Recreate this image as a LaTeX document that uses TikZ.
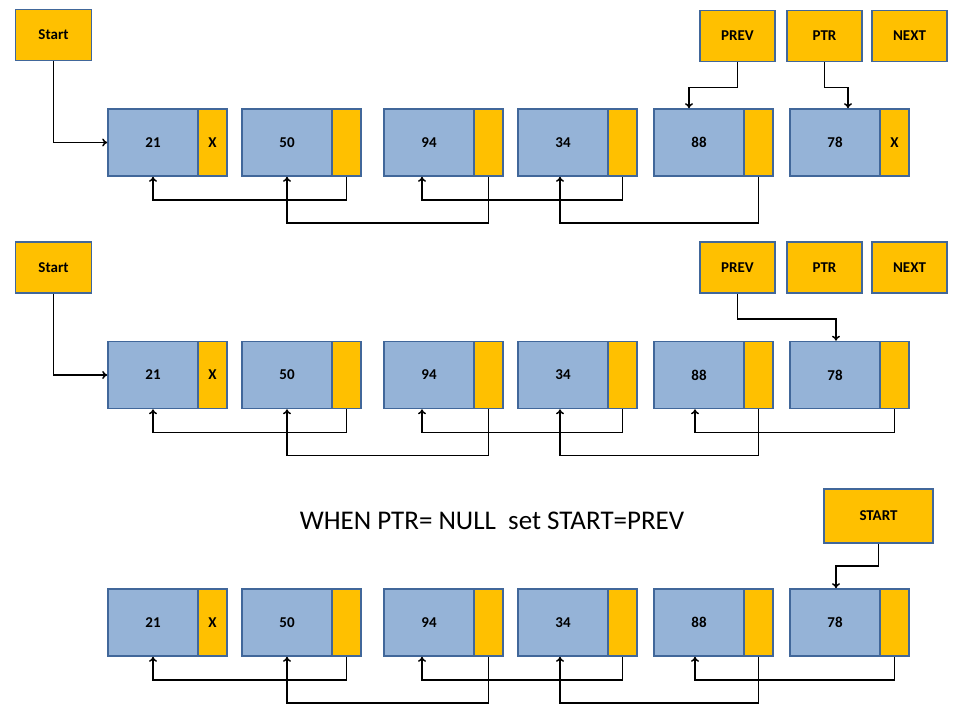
\documentclass[tikz,border=0pt]{standalone}
\usepackage{fontspec}
\setmainfont{Carlito}
\usetikzlibrary{arrows.meta}
\definecolor{cblue}{HTML}{95B3D7}
\definecolor{cedge}{HTML}{41679A}
\definecolor{cyel}{HTML}{FFC000}
\begin{document}
\begin{tikzpicture}[x=1pt,y=-1pt,
  base/.style={draw=cedge,line width=1.6pt,inner sep=0pt,font=\bfseries\fontsize{15}{15}\selectfont},
  data/.style={base,fill=cblue,minimum width=90pt,minimum height=67pt},
  nxt/.style={base,fill=cyel,minimum width=29pt,minimum height=67pt},
  lbl/.style={base,fill=cyel,minimum width=76pt,minimum height=51pt},
  ptr/.style={line width=1.5pt,-{To[length=5pt,width=8pt]}}]
\useasboundingbox (0,0) rectangle (960,720);
\foreach \r/\y in {1/142.5,2/375,3/622.5}{
  \foreach \i/\L/\v in {1/108/21,2/242/50,3/384/94,4/518/34,5/654/88,6/790/78}{
    \node[data] (r\r d\i) at (\L+45,\y) {\v};
    \node[nxt] (r\r n\i) at (\L+104.5,\y) {};
  }
}
\foreach \r in {1,2,3}{\node[font=\bfseries\fontsize{15}{15}\selectfont] at (r\r n1) {X};}
\node[font=\bfseries\fontsize{15}{15}\selectfont] at (r1n6) {X};
% labels
\node[lbl] (s1) at (53.5,35) {Start};
\node[lbl,minimum width=75pt] (p1) at (737.5,36) {PREV};
\node[lbl,minimum width=75pt] (q1) at (824.5,36) {PTR};
\node[lbl,minimum width=75pt] (x1) at (909.5,36) {NEXT};
\node[lbl] (s2) at (53.5,267.5) {Start};
\node[lbl,minimum width=75pt] (p2) at (737.5,267.5) {PREV};
\node[lbl,minimum width=75pt] (q2) at (824.5,267.5) {PTR};
\node[lbl,minimum width=75pt] (x2) at (909.5,267.5) {NEXT};
\node[lbl,minimum width=109pt,minimum height=54pt] (s3) at (878.5,516) {START};
\node[font=\fontsize{27}{27}\selectfont] (title) at (492,521) {WHEN PTR= NULL\ \ set START=PREV};
% head pointers
\draw[ptr] (s1.south) |- (r1d1.west);
\draw[ptr] (s2.south) |- (r2d1.west);
\draw[ptr] (p1.south) -- ++(0,25) -| ([xshift=-10pt]r1d5.north);
\draw[ptr] (q1.south) -- ++(0,25) -| ([xshift=13pt]r1d6.north);
\draw[ptr] (p2.south) -- ++(0,25) -| ([xshift=1pt]r2d6.north);
\draw[ptr] (s3.south) -- ++(0,22) -| ([xshift=1pt]r3d6.north);
% prev links
\foreach \r in {1,2,3}{
  \draw[ptr] (r\r n2.south) -- ++(0,23) -| (r\r d1.south);
  \draw[ptr] (r\r n4.south) -- ++(0,23) -| ([xshift=-7pt]r\r d3.south);
  \draw[ptr] (r\r n3.south) -- ++(0,46) -| (r\r d2.south);
  \draw[ptr] (r\r n5.south) -- ++(0,46) -| ([xshift=-3pt]r\r d4.south);
}
\draw[ptr] (r2n6.south) -- ++(0,23) -| ([xshift=-4pt]r2d5.south);
\draw[ptr] (r3n6.south) -- ++(0,23) -| ([xshift=-4pt]r3d5.south);
\end{tikzpicture}
\end{document}
